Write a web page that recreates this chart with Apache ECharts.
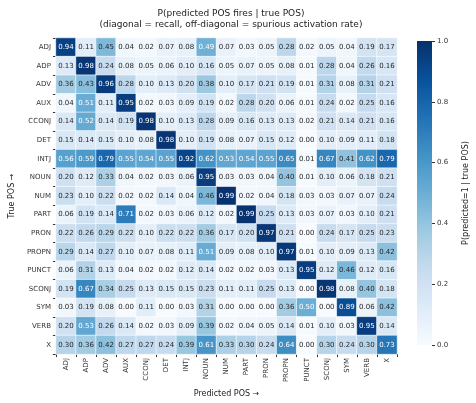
<!DOCTYPE html>
<html>
<head>
<meta charset="utf-8">
<script src="https://cdn.jsdelivr.net/npm/echarts@6/dist/echarts.min.js"></script>
<style>html,body{margin:0;padding:0;background:#fff}#main{width:476px;height:403px}</style>
</head>
<body>
<div id="main"></div>
<script>
var tags = ['ADJ','ADP','ADV','AUX','CCONJ','DET','INTJ','NOUN','NUM','PART','PRON','PROPN','PUNCT','SCONJ','SYM','VERB','X'];

var rowADJ   = [.94,.11,.45,.04,.02,.07,.08,.49,.07,.03,.05,.28,.02,.05,.04,.19,.17];
var rowADP   = [.13,.98,.24,.08,.05,.06,.10,.16,.05,.07,.05,.08,.01,.28,.04,.26,.16];
var rowADV   = [.36,.43,.96,.28,.10,.13,.20,.38,.10,.17,.21,.19,.01,.31,.08,.31,.21];
var rowAUX   = [.04,.51,.11,.95,.02,.03,.09,.19,.02,.28,.20,.06,.01,.24,.02,.25,.16];
var rowCCONJ = [.14,.52,.14,.19,.98,.10,.13,.28,.09,.16,.13,.13,.02,.21,.14,.21,.16];
var rowDET   = [.15,.14,.15,.10,.08,.98,.10,.19,.08,.07,.15,.12,.00,.10,.09,.11,.18];
var rowINTJ  = [.56,.59,.79,.55,.54,.55,.92,.62,.53,.54,.55,.65,.01,.67,.41,.62,.79];
var rowNOUN  = [.20,.12,.33,.04,.02,.03,.06,.95,.03,.03,.04,.40,.01,.10,.06,.18,.21];
var rowNUM   = [.23,.10,.22,.02,.02,.14,.04,.46,.99,.02,.04,.18,.03,.03,.07,.07,.24];
var rowPART  = [.06,.19,.14,.71,.02,.03,.06,.12,.02,.99,.25,.13,.03,.07,.03,.10,.21];
var rowPRON  = [.22,.26,.29,.22,.10,.22,.22,.36,.17,.20,.97,.21,.00,.24,.17,.25,.23];
var rowPROPN = [.29,.14,.27,.10,.07,.08,.11,.51,.09,.08,.10,.97,.01,.10,.09,.13,.42];
var rowPUNCT = [.06,.31,.13,.04,.02,.02,.12,.14,.02,.02,.03,.13,.95,.12,.46,.12,.16];
var rowSCONJ = [.19,.67,.34,.25,.13,.15,.15,.23,.11,.11,.25,.13,.00,.98,.08,.40,.18];
var rowSYM   = [.03,.19,.08,.00,.11,.00,.03,.31,.00,.00,.00,.36,.50,.00,.89,.06,.42];
var rowVERB  = [.20,.53,.26,.14,.02,.03,.09,.39,.02,.04,.05,.14,.01,.10,.03,.95,.14];
var rowX     = [.30,.36,.42,.27,.27,.24,.39,.61,.33,.30,.24,.64,.00,.30,.24,.30,.73];

var rows = [rowADJ,rowADP,rowADV,rowAUX,rowCCONJ,rowDET,rowINTJ,rowNOUN,rowNUM,rowPART,rowPRON,rowPROPN,rowPUNCT,rowSCONJ,rowSYM,rowVERB,rowX];

var blues = ['#f7fbff','#deebf7','#c6dbef','#9ecae1','#6baed6','#4292c6','#2171b5','#08519c','#08306b'];

var data = [];
for (var i = 0; i < rows.length; i++) {
    for (var j = 0; j < rows[i].length; j++) {
        var v = rows[i][j];
        data.push({ value: [j, i, v], label: { color: v > 0.47 ? '#fff' : '#262626' } });
    }
}

var font = 'DejaVu Sans';
var myChart = echarts.init(document.getElementById('main'));
var option = {
    animation: false,
    textStyle: { fontFamily: font },
    title: {
        text: 'P(predicted POS fires | true POS)\n(diagonal = recall, off-diagonal = spurious activation rate)',
        left: 226, top: 3, textAlign: 'center',
        textStyle: { fontSize: 9, fontWeight: 'normal', color: '#222', lineHeight: 11, fontFamily: font }
    },
    grid: [
        { left: 55, top: 38, width: 342, height: 332 },
        { left: 417, top: 41, width: 15, height: 304 }
    ],
    xAxis: [{
        type: 'category', data: tags, gridIndex: 0,
        name: 'Predicted POS →', nameLocation: 'middle', nameGap: 28,
        nameTextStyle: { fontSize: 8, color: '#222' },
        axisLabel: { rotate: 90, fontSize: 7, color: '#333', interval: 0, margin: 4 },
        axisTick: { show: true, length: 3, lineStyle: { color: '#333' } },
        axisLine: { show: false }
    }, {
        type: 'category', data: ['cb'], gridIndex: 1, show: false
    }],
    yAxis: [{
        type: 'category', data: tags, inverse: true, gridIndex: 0,
        name: 'True POS →', nameLocation: 'middle', nameGap: 36,
        nameTextStyle: { fontSize: 8, color: '#222' },
        axisLabel: { fontSize: 7, color: '#333', interval: 0, margin: 5 },
        axisTick: { show: true, length: 3, lineStyle: { color: '#333' } },
        axisLine: { show: false }
    }, {
        type: 'value', gridIndex: 1, min: 0, max: 1, interval: 0.2, position: 'right',
        name: 'P(predicted=1 | true POS)', nameLocation: 'middle', nameRotate: 90, nameGap: 30,
        nameTextStyle: { fontSize: 8, color: '#222' },
        axisLabel: { fontSize: 7, color: '#333', margin: 5, formatter: function (v) { return v.toFixed(1); } },
        axisTick: { show: true, length: 3, lineStyle: { color: '#333' } },
        axisLine: { show: false }, splitLine: { show: false }
    }],
    visualMap: {
        show: false, type: 'continuous', min: 0, max: 1, seriesIndex: 0,
        inRange: { color: blues }
    },
    series: [{
        type: 'heatmap', data: data, xAxisIndex: 0, yAxisIndex: 0,
        itemStyle: { borderColor: '#fff', borderWidth: 0.6 },
        label: {
            show: true, fontSize: 7, fontFamily: font,
            formatter: function (p) { return p.value[2].toFixed(2); }
        }
    }, {
        type: 'bar', xAxisIndex: 1, yAxisIndex: 1, data: [1], barWidth: '100%',
        silent: true,
        itemStyle: {
            color: new echarts.graphic.LinearGradient(0, 1, 0, 0, blues.map(function (c, k) {
                return { offset: k / (blues.length - 1), color: c };
            }))
        }
    }]
};
myChart.setOption(option);
</script>
</body>
</html>
